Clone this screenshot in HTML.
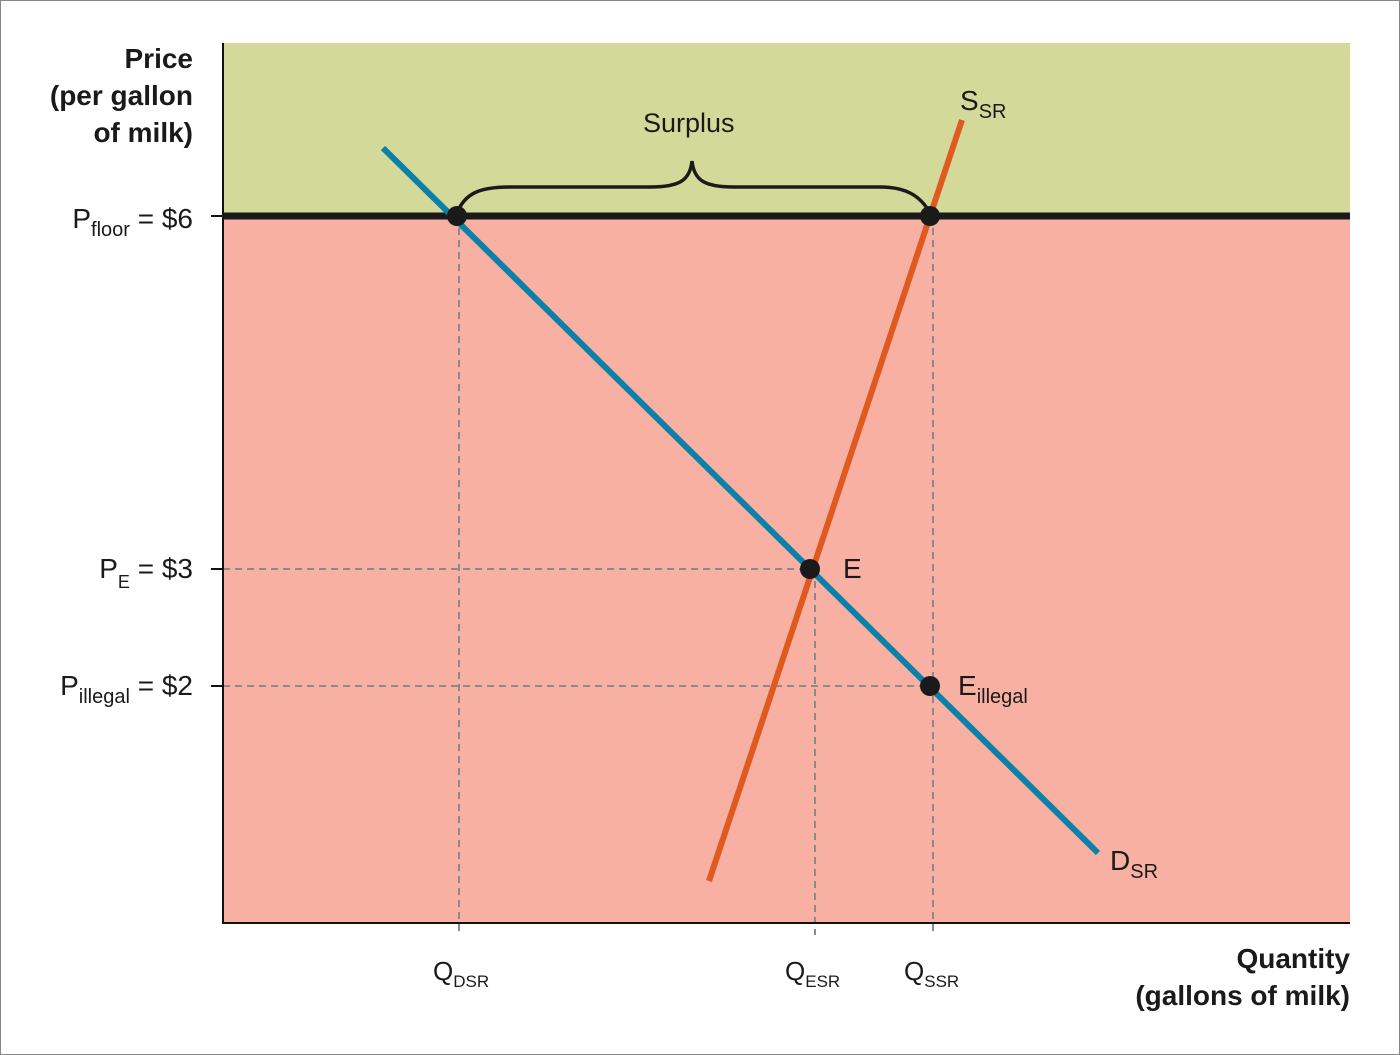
<!DOCTYPE html>
<html><head><style>body{margin:0;background:#fff}svg{display:block}</style></head><body>
<svg width="1400" height="1055" xmlns="http://www.w3.org/2000/svg" font-family="Liberation Sans, sans-serif">
<rect x="0.5" y="0.5" width="1399" height="1054" fill="#fff" stroke="#888" stroke-width="1"/>
<rect x="223" y="43" width="1127" height="173" fill="#d3da99"/>
<rect x="223" y="216" width="1127" height="707" fill="#f8b0a2"/>
<g stroke="#8a8a8a" stroke-width="2" stroke-dasharray="7,5" fill="none">
<line x1="459" y1="216" x2="459" y2="935"/>
<line x1="815" y1="569" x2="815" y2="935"/>
<line x1="933" y1="216" x2="933" y2="935"/>
<line x1="223" y1="569" x2="810" y2="569"/>
<line x1="223" y1="686" x2="930" y2="686"/>
</g>
<g stroke="#111" stroke-width="2">
<line x1="223" y1="43" x2="223" y2="924"/>
<line x1="222" y1="923" x2="1350" y2="923"/>
<line x1="211" y1="216" x2="223" y2="216"/>
<line x1="211" y1="569" x2="223" y2="569"/>
<line x1="211" y1="686" x2="223" y2="686"/>
</g>
<line x1="223" y1="216" x2="1350" y2="216" stroke="#1a1a1a" stroke-width="7"/>
<path d="M457,213 C465,193 480,187 510,187 L650,187 C680,187 690,180 692,161 C694,180 704,187 734,187 L880,187 C905,187 920,195 930,213" fill="none" stroke="#1a1a1a" stroke-width="3.5"/>
<line x1="383" y1="148" x2="1098" y2="853" stroke="#0b80a8" stroke-width="6"/>
<line x1="709" y1="881" x2="962" y2="120" stroke="#e05a20" stroke-width="6"/>
<g fill="#1a1a1a">
<circle cx="457" cy="216" r="10"/><circle cx="930" cy="216" r="10"/>
<circle cx="810" cy="569" r="10"/><circle cx="930" cy="686" r="10"/>
</g>
<g fill="#1a1a1a" font-size="28">
<text x="193" y="68" text-anchor="end" font-weight="bold">Price</text>
<text x="193" y="105" text-anchor="end" font-weight="bold">(per gallon</text>
<text x="193" y="142" text-anchor="end" font-weight="bold">of milk)</text>
<text x="1350" y="968" text-anchor="end" font-weight="bold">Quantity</text>
<text x="1350" y="1005" text-anchor="end" font-weight="bold">(gallons of milk)</text>
<text x="643" y="132" font-size="27">Surplus</text>
<text x="960" y="110">S<tspan font-size="20" dy="8">SR</tspan></text>
<text x="1110" y="870">D<tspan font-size="20" dy="8">SR</tspan></text>
<text x="843" y="578">E</text>
<text x="958" y="695">E<tspan font-size="20" dy="8">illegal</tspan></text>
<text x="193" y="228" text-anchor="end">P<tspan font-size="20" dy="8">floor</tspan><tspan dy="-8"> = $6</tspan></text>
<text x="193" y="578" text-anchor="end">P<tspan font-size="18" dy="10">E</tspan><tspan dy="-10">   = $3</tspan></text>
<text x="193" y="695" text-anchor="end">P<tspan font-size="20" dy="8">illegal</tspan><tspan dy="-8"> = $2</tspan></text>
<text x="433" y="980" font-size="26">Q<tspan font-size="17" dy="7">DSR</tspan></text>
<text x="785" y="980" font-size="26">Q<tspan font-size="17" dy="7">ESR</tspan></text>
<text x="904" y="980" font-size="26">Q<tspan font-size="17" dy="7">SSR</tspan></text>
</g>
</svg>
</body></html>
